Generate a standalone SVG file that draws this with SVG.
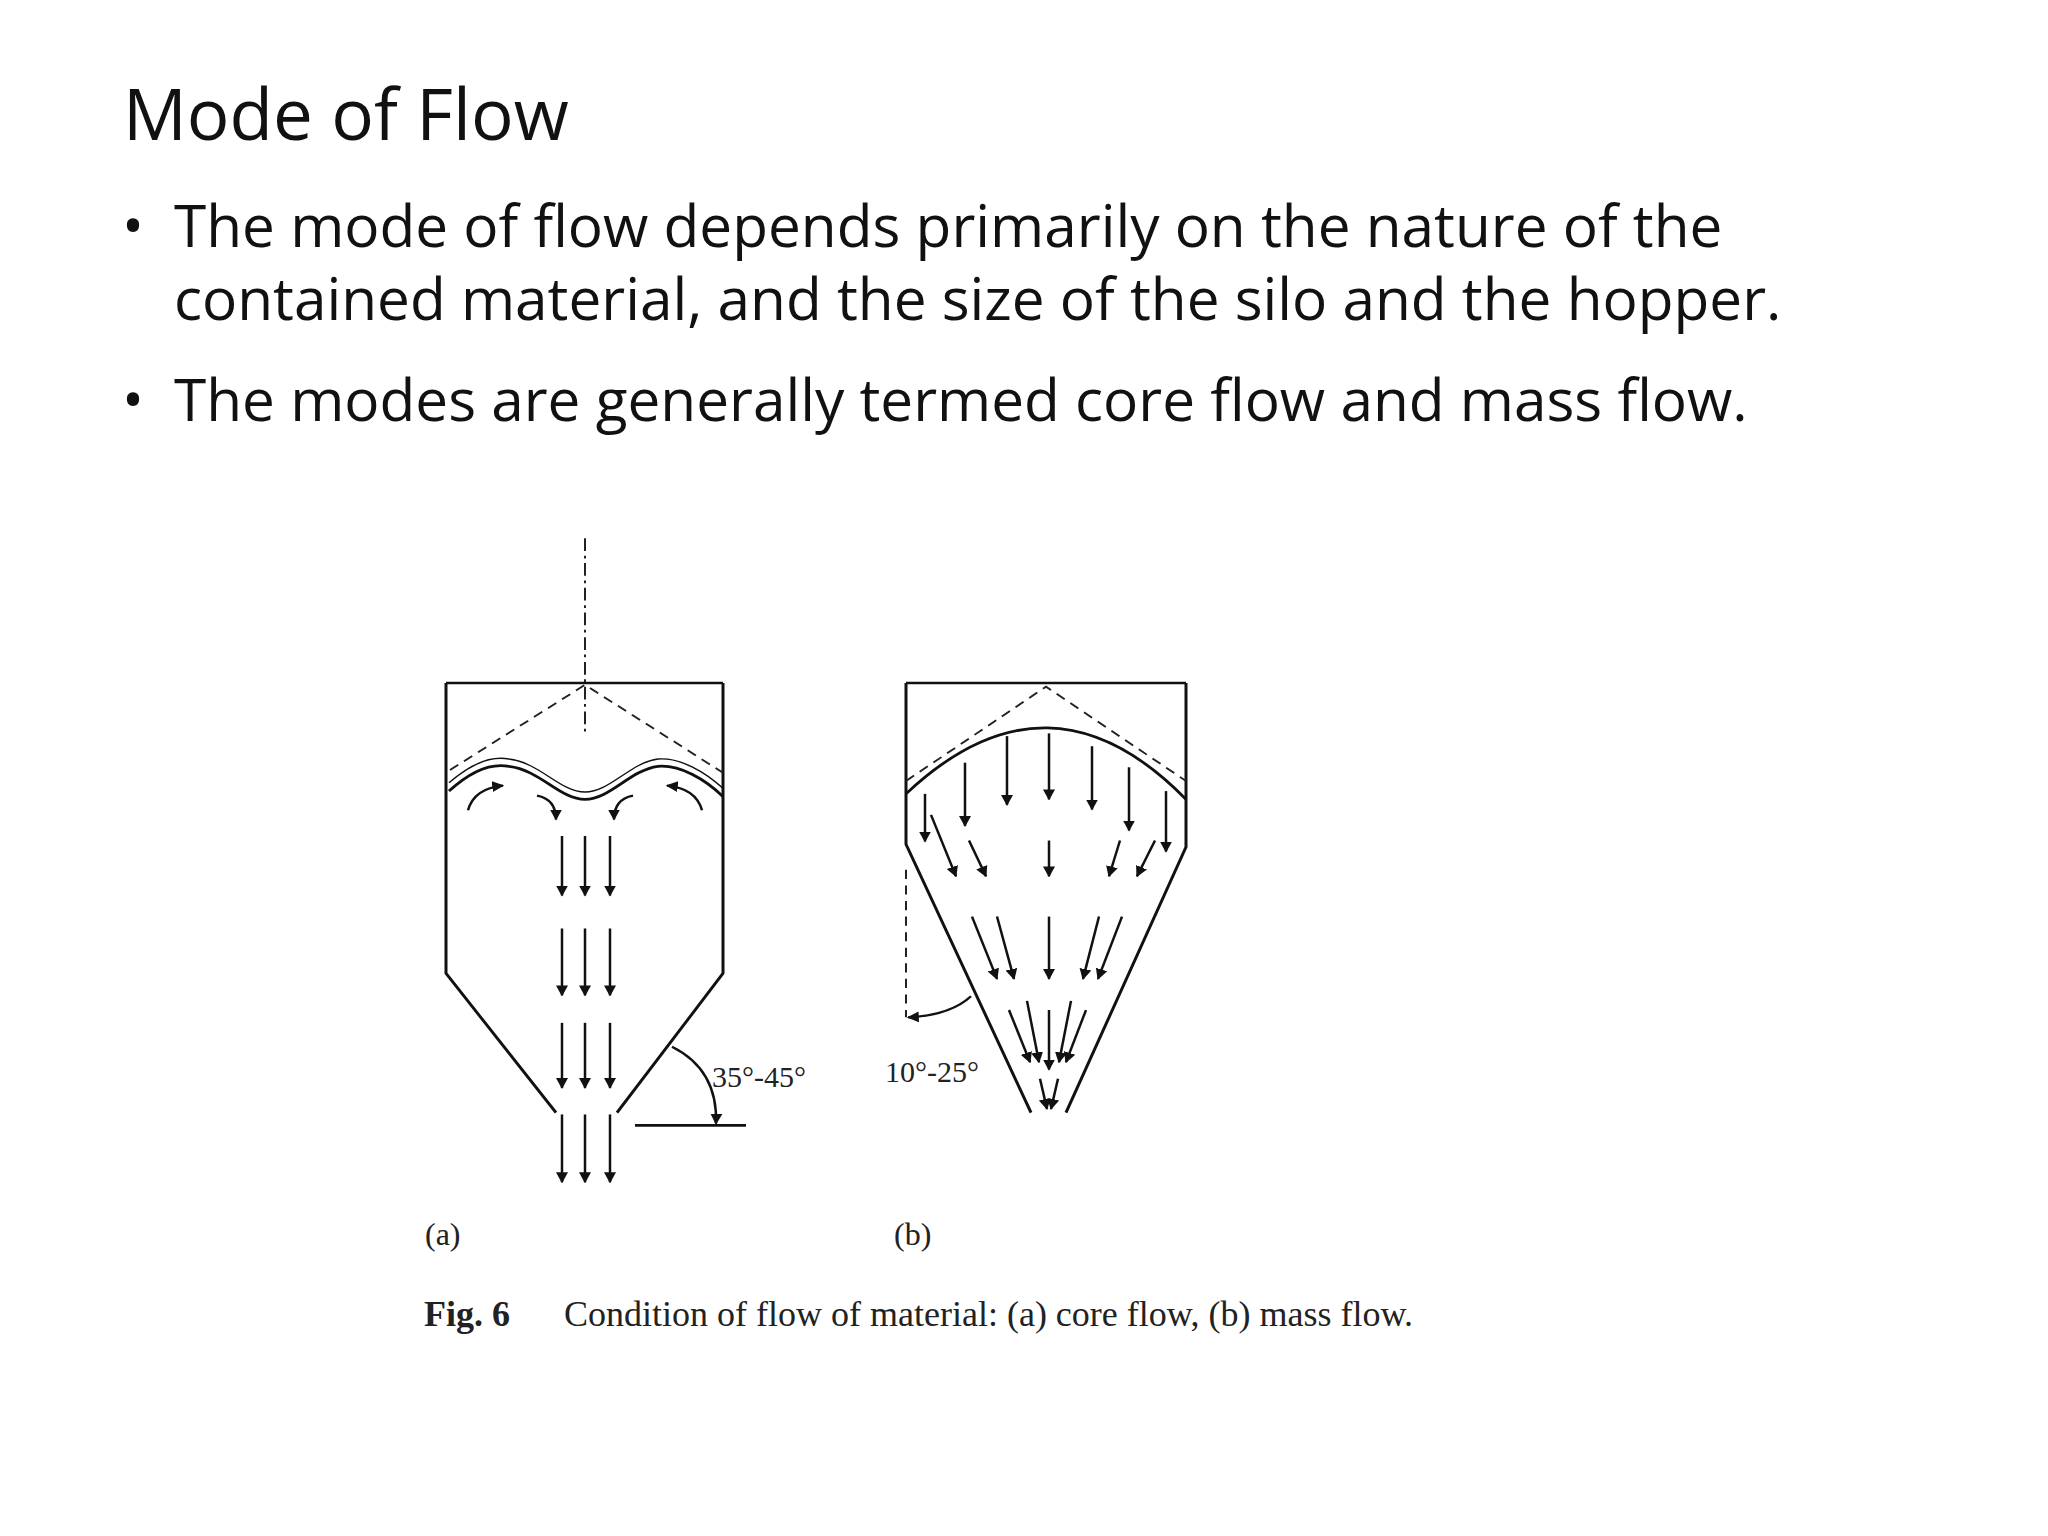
<svg xmlns="http://www.w3.org/2000/svg" width="2048" height="1536" viewBox="0 0 2048 1536">
<defs>
<marker id="ah" viewBox="0 0 10 10" refX="9" refY="5" markerWidth="12" markerHeight="14" markerUnits="userSpaceOnUse" orient="auto"><path d="M0,0 L10,5 L0,10 z" fill="#111"/></marker>
</defs>
<style>
.t{font-family:"Open Sans","Noto Sans",sans-serif;fill:#111}
.s{stroke:#111;stroke-width:3;fill:none}
.d{stroke:#222;stroke-width:2;fill:none;stroke-dasharray:10,7}
.a{stroke:#111;stroke-width:2.5;fill:none;marker-end:url(#ah)}
.f{font-family:"Liberation Serif",serif;fill:#222}
</style>
<rect width="2048" height="1536" fill="#fff"/>
<text class="t" x="123" y="140" font-size="71">Mode of Flow</text>
<g class="t" font-size="58.5">
<text x="122" y="247">•</text>
<text x="174" y="247">The mode of flow depends primarily on the nature of the</text>
<text x="174" y="320">contained material, and the size of the silo and the hopper.</text>
<text x="122" y="421">•</text>
<text x="174" y="421">The modes are generally termed core flow and mass flow.</text>
</g>
<g transform="translate(0,683) scale(1,0.916) translate(0,-703)">
<g id="silo-a">
<path class="s" d="M446,703 H723 M446,703 V1020 L556,1172 M723,703 V1020 L617,1172"/>
<path stroke="#222" stroke-width="2" stroke-dasharray="14,5,3,5" d="M585,545 V760"/>
<path class="d" d="M450,798 L585,705 L723,801"/>
<path class="s" d="M449,821 C470,800 490,790 509,794 C540,798 560,830 585,830 C610,830 630,798 658,794 C680,792 705,808 723,827"/>
<path stroke="#111" stroke-width="1.5" fill="none" d="M449,812 C470,792 490,782 509,786 C540,790 560,822 585,822 C610,822 630,790 658,786 C680,784 705,800 723,818"/>
<path class="a" d="M468,842 Q474,818 503,815"/>
<path class="a" d="M702,842 Q696,818 667,815"/>
<path class="a" d="M537,826 Q556,830 556,852"/>
<path class="a" d="M633,826 Q614,830 614,852"/>
<path class="a" d="M562,870 V935"/><path class="a" d="M585,870 V935"/><path class="a" d="M610,870 V935"/>
<path class="a" d="M562,971 V1044"/><path class="a" d="M585,971 V1044"/><path class="a" d="M610,971 V1044"/>
<path class="a" d="M562,1074 V1145"/><path class="a" d="M585,1074 V1145"/><path class="a" d="M610,1074 V1145"/>
<path class="a" d="M562,1174 V1248"/><path class="a" d="M585,1174 V1248"/><path class="a" d="M610,1174 V1248"/>
<path class="s" stroke-width="2" d="M635,1186 H746"/>
<path class="a" d="M672,1100 Q718,1125 716,1184"/>
</g>
<g id="silo-b">
<path class="s" d="M906,703 H1186 M906,703 V879 L1031,1172 M1186,703 V882 L1066,1172"/>
<path class="d" d="M906,810 L1046,707 L1186,810"/>
<path class="s" d="M906,824 Q1049,677 1186,830"/>
<path class="a" d="M925,824 V876"/><path class="a" d="M965,790 V859"/><path class="a" d="M1007,761 V836"/><path class="a" d="M1049,758 V830"/><path class="a" d="M1092,772 V841"/><path class="a" d="M1129,795 V864"/><path class="a" d="M1166,821 V887"/>
<path class="a" d="M931,847 L956,914"/><path class="a" d="M972,958 L997,1026"/><path class="a" d="M1009,1060 L1030,1117"/>
<path class="a" d="M969,875 L986,914"/><path class="a" d="M997,958 L1014,1026"/>
<path class="a" d="M1049,875 V914"/><path class="a" d="M1049,958 V1026"/><path class="a" d="M1049,1060 V1125"/><path class="a" d="M1040,1135 L1047,1168"/><path class="a" d="M1058,1135 L1051,1168"/>
<path class="a" d="M1120,875 L1109,914"/><path class="a" d="M1099,958 L1083,1026"/>
<path class="a" d="M1155,875 L1137,914"/><path class="a" d="M1122,958 L1098,1026"/><path class="a" d="M1086,1060 L1066,1117"/>
<path class="a" d="M1027,1050 L1039,1117"/><path class="a" d="M1071,1050 L1059,1117"/>
<path class="d" d="M906,907 V1068"/>
<path class="a" d="M971,1045 Q950,1066 908,1068"/>
</g>
</g>
<text class="f" x="712" y="1087" font-size="30">35°-45°</text>
<text class="f" x="885" y="1082" font-size="30">10°-25°</text>
<text class="f" x="425" y="1245" font-size="32">(a)</text>
<text class="f" x="894" y="1245" font-size="32">(b)</text>
<text class="f" x="424" y="1326" font-size="36"><tspan font-weight="bold">Fig. 6</tspan><tspan x="564">Condition of flow of material: (a) core flow, (b) mass flow.</tspan></text>
</svg>
